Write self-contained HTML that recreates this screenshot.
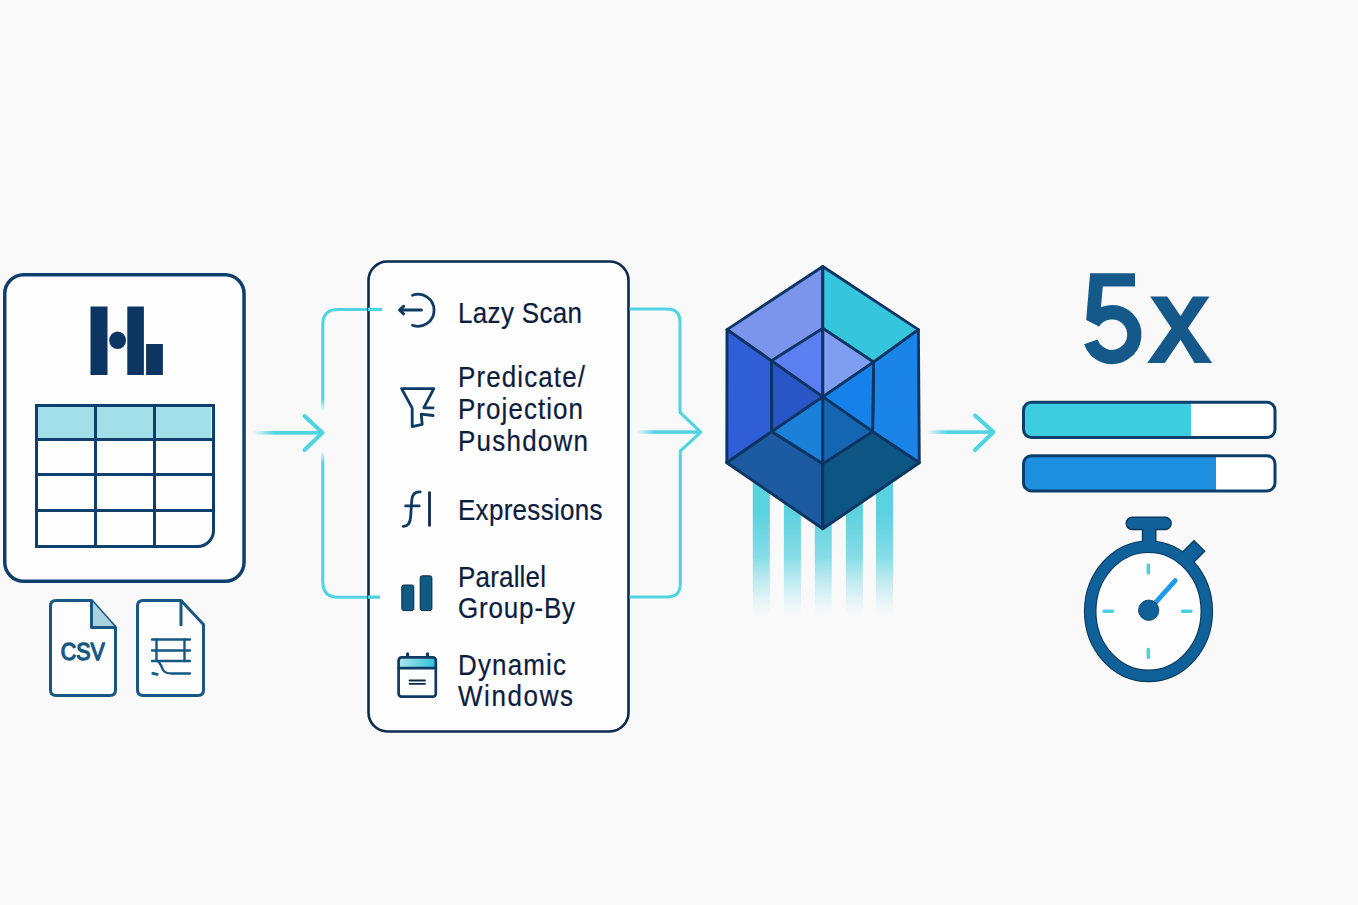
<!DOCTYPE html>
<html>
<head>
<meta charset="utf-8">
<style>
html,body{margin:0;padding:0;background:#f9f9fa;}
body{width:1358px;height:905px;overflow:hidden;}
svg{display:block;}
text{font-family:"Liberation Sans",sans-serif;}
</style>
</head>
<body>
<svg width="1358" height="905" viewBox="0 0 1358 905">
<defs>
  <linearGradient id="fadeL" x1="0" y1="0" x2="1" y2="0">
    <stop offset="0" stop-color="#50d4e2" stop-opacity="0"/>
    <stop offset="0.3" stop-color="#50d4e2" stop-opacity="1"/>
    <stop offset="1" stop-color="#50d4e2" stop-opacity="1"/>
  </linearGradient>
  <linearGradient id="barFade" gradientUnits="userSpaceOnUse" x1="0" y1="470" x2="0" y2="615">
    <stop offset="0" stop-color="#58d1de" stop-opacity="1"/>
    <stop offset="0.3" stop-color="#5cd2df" stop-opacity="1"/>
    <stop offset="0.6" stop-color="#6cd6e2" stop-opacity="0.82"/>
    <stop offset="0.85" stop-color="#9fe3ea" stop-opacity="0.4"/>
    <stop offset="1" stop-color="#c0ecf0" stop-opacity="0"/>
  </linearGradient>
  <linearGradient id="fadeDown" x1="0" y1="0" x2="0" y2="1">
    <stop offset="0" stop-color="#50d4e2" stop-opacity="1"/>
    <stop offset="1" stop-color="#50d4e2" stop-opacity="0"/>
  </linearGradient>
  <linearGradient id="fadeUp" x1="0" y1="1" x2="0" y2="0">
    <stop offset="0" stop-color="#50d4e2" stop-opacity="1"/>
    <stop offset="1" stop-color="#50d4e2" stop-opacity="0"/>
  </linearGradient>
  <linearGradient id="calHead" x1="0" y1="0" x2="1" y2="0">
    <stop offset="0" stop-color="#a9e6ee"/>
    <stop offset="1" stop-color="#2fc3d8"/>
  </linearGradient>
</defs>
<rect width="1358" height="905" fill="#f9f9fa"/>

<!-- LEFT CARD -->
<rect x="4.75" y="274.75" width="239.3" height="306.5" rx="19" fill="#fefefe" stroke="#0f3f6c" stroke-width="3.5"/>
<!-- logo -->
<g fill="#0d3562">
  <rect x="90.5" y="306.5" width="17" height="68.5"/>
  <rect x="127.3" y="306.5" width="16.6" height="68.5"/>
  <rect x="146.1" y="344" width="16.8" height="31"/>
  <ellipse cx="117.6" cy="340.3" rx="8.4" ry="8.8"/>
</g>
<!-- table -->
<rect x="37" y="406" width="174" height="34" fill="#a3dfe8"/>
<g fill="none" stroke="#0f3f6c" stroke-width="3">
  <path d="M36.5 405.5 H213.5 V530 A16 16 0 0 1 197.5 546.5 H36.5 Z"/>
  <path d="M36.5 439.5 H213.5 M36.5 474.5 H213.5 M36.5 510.5 H213.5"/>
  <path d="M95.5 405.5 V546.5 M154.5 405.5 V546.5"/>
</g>
<!-- file icons -->
<g fill="none" stroke="#175782" stroke-width="3" stroke-linejoin="round">
  <path fill="#fdfdfd" d="M91.5 600.5 H56 Q50.5 600.5 50.5 606 V690 Q50.5 695.5 56 695.5 H110 Q115.5 695.5 115.5 690 V627.5 Z"/>
  <path d="M91.5 600.5 V627.5 H115.5" fill="#a9d1de"/>
  <path fill="#fdfdfd" d="M181 600.5 H143 Q137.5 600.5 137.5 606 V690 Q137.5 695.5 143 695.5 H198 Q203.5 695.5 203.5 690 V624.5 Z"/>
  <path d="M181 600.5 V626"/>
</g>
<text x="60.8" y="660.2" font-size="24" fill="#175782" stroke="#175782" stroke-width="1.3" stroke-linejoin="round" textLength="44" lengthAdjust="spacingAndGlyphs">CSV</text>
<g fill="none" stroke="#175782" stroke-width="2.4" stroke-linecap="round">
  <path d="M152 639.5 H190 M152 650.5 H190 M152 661 H190"/>
  <path d="M156.5 639.5 V661 M184.5 639.5 V650.5 M184.5 650.5 V661"/>
  <path d="M158.5 661.5 Q162 666 163 670 Q165 673.5 172 673.5 H190"/>
  <path d="M152.8 673.4 L157.3 674.3" stroke-width="2.8"/>
</g>

<!-- BRACKET 1 -->
<g fill="none" stroke="#50d4e2" stroke-width="3" stroke-linecap="round">
  <path d="M381 309.5 H338 Q322.8 309.5 322.8 324.5 V399" stroke-linecap="butt"/>
  <path d="M322.8 463 V582 Q322.8 597.2 338 597.2 H379" stroke-linecap="butt"/>
</g>
<rect x="321.3" y="399" width="3" height="12" fill="url(#fadeDown)"/>
<rect x="321.3" y="451" width="3" height="12" fill="url(#fadeUp)"/>
<rect x="253" y="431" width="70" height="3.6" fill="url(#fadeL)"/>
<path d="M304.5 416 L322.5 432.8 L304.5 450" fill="none" stroke="#50d4e2" stroke-width="4" stroke-linecap="round" stroke-linejoin="round"/>

<!-- PANEL -->
<rect x="368.5" y="261.5" width="260" height="470" rx="19" fill="#fefefe" stroke="#0b2a4d" stroke-width="2.6"/>
<g fill="#50d4e2">
  <rect x="368" y="307.8" width="14" height="3.3"/>
  <rect x="368" y="595.5" width="12" height="3.3"/>
</g>

<!-- panel icons -->
<g fill="none" stroke="#0f3a64" stroke-width="2.8" stroke-linecap="round" stroke-linejoin="round">
  <path d="M412.5 295.3 A16 16 0 1 1 412.5 325.3"/>
  <path d="M421.3 310 H400.5" stroke-width="3.2"/>
  <path d="M403.6 306.3 L399.6 310 L403.6 313.8" stroke-width="3"/>
  <!-- funnel -->
  <path d="M401.6 388.6 H433.8 L423.8 407.8 H433.1 M401.6 388.6 L412.2 408.2 V426.7 L422.2 424.4 L421.2 414.1 L433.1 415.5"/>
  <!-- f -->
  <path d="M420.2 491.9 Q412.5 491.5 411.8 500 L410.6 517.1 Q410 526 403.3 526.4"/>
  <path d="M405.6 505.9 H419.2"/>
  <path d="M429.5 491.5 V526.5" stroke="#0b2a52" stroke-linecap="butt"/>
</g>
<g fill="#0e5a80" stroke="#0a2a50" stroke-width="1">
  <rect x="401.8" y="585" width="12" height="25.6" rx="2"/>
  <rect x="420.2" y="575.8" width="11.7" height="34.8" rx="2"/>
</g>
<!-- calendar -->
<rect x="399.5" y="658.3" width="36" height="9" fill="url(#calHead)"/>
<g fill="none" stroke="#0f3a64" stroke-width="2.7" stroke-linecap="round">
  <rect x="398.6" y="657.4" width="37.2" height="39.3" rx="3"/>
  <path d="M398.6 668.2 H435.8"/>
  <path d="M407.6 653.8 V656.5 M427.5 653.8 V656.5" stroke-width="3.2"/>
</g>
<g fill="none" stroke="#0b2a4d" stroke-width="1.8" stroke-linecap="round">
  <path d="M409.5 680.5 H425 M409.5 683.8 H425"/>
</g>

<!-- panel text -->
<g fill="#0e1d3d" font-size="29.5" stroke="#0e1d3d" stroke-width="0.25">
  <text transform="translate(458 322.5) scale(0.88 1)" x="0" y="0" textLength="140.9" lengthAdjust="spacing">Lazy Scan</text>
  <text transform="translate(458 386.8) scale(0.88 1)" x="0" y="0" textLength="144.3" lengthAdjust="spacing">Predicate/</text>
  <text transform="translate(458 418.9) scale(0.88 1)" x="0" y="0" textLength="142.0" lengthAdjust="spacing">Projection</text>
  <text transform="translate(458 450.5) scale(0.88 1)" x="0" y="0" textLength="147.7" lengthAdjust="spacing">Pushdown</text>
  <text transform="translate(458 519.9) scale(0.88 1)" x="0" y="0" textLength="164.2" lengthAdjust="spacing">Expressions</text>
  <text transform="translate(458 587.0) scale(0.88 1)" x="0" y="0" textLength="100.0" lengthAdjust="spacing">Parallel</text>
  <text transform="translate(458 618.3) scale(0.88 1)" x="0" y="0" textLength="133.0" lengthAdjust="spacing">Group-By</text>
  <text transform="translate(458 674.9) scale(0.88 1)" x="0" y="0" textLength="122.7" lengthAdjust="spacing">Dynamic</text>
  <text transform="translate(458 706.2) scale(0.88 1)" x="0" y="0" textLength="130.7" lengthAdjust="spacing">Windows</text>
</g>

<!-- BRACKET 2 -->
<g fill="none" stroke="#50d4e2" stroke-width="3" stroke-linecap="round" stroke-linejoin="round">
  <path d="M631 309 H667 Q680 309 680 322 V412.4 L700.8 432.1 L680.3 451.1 V584 Q680.3 597 667 597 H631"/>
</g>
<rect x="636" y="430.3" width="62" height="3.5" fill="url(#fadeL)"/>

<!-- CUBE bars -->
<g fill="url(#barFade)">
  <rect x="752.8" y="470" width="17" height="145"/>
  <rect x="783.9" y="470" width="17" height="145"/>
  <rect x="814.8" y="470" width="17" height="145"/>
  <rect x="845.9" y="470" width="17" height="145"/>
  <rect x="876" y="470" width="17" height="145"/>
</g>
<!-- CUBE -->
<g stroke="#0d3563" stroke-width="2.9" stroke-linejoin="round">
  <!-- top-left face -->
  <polygon points="822.8,266.5 727,329.6 771.5,360.9 822.8,328.4" fill="#7b94ec"/>
  <!-- top-right face -->
  <polygon points="822.8,266.5 918.4,329.6 873.6,362.1 822.8,328.4" fill="#35c5dc"/>
  <!-- left face -->
  <polygon points="727,329.6 726.8,462.7 771.8,431.6 771.5,360.9" fill="#2f5ed6"/>
  <!-- right face -->
  <polygon points="918.4,329.6 919.3,462.7 872.6,431.6 873.6,362.1" fill="#1a84e8"/>
  <!-- bottom-left face -->
  <polygon points="726.8,462.7 822.8,528.8 822.8,463.7 771.8,431.6" fill="#1c5ba2"/>
  <!-- bottom-right face -->
  <polygon points="919.3,462.7 822.8,528.8 822.8,463.7 872.6,431.6" fill="#0d5684"/>
  <!-- inner triangles -->
  <polygon points="822.8,328.4 771.5,360.9 822.8,396.9" fill="#5b7ef0"/>
  <polygon points="822.8,328.4 873.6,362.1 822.8,396.9" fill="#7e9ef2"/>
  <polygon points="771.5,360.9 771.8,431.6 822.8,396.9" fill="#2856c6"/>
  <polygon points="873.6,362.1 872.6,431.6 822.8,396.9" fill="#1681ea"/>
  <polygon points="771.8,431.6 822.8,463.7 822.8,396.9" fill="#1a80d8"/>
  <polygon points="872.6,431.6 822.8,463.7 822.8,396.9" fill="#1566b2"/>
</g>

<!-- ARROW 3 -->
<rect x="927" y="430.3" width="64" height="3.6" fill="url(#fadeL)"/>
<path d="M975 415.5 L993.5 432.1 L975 450" fill="none" stroke="#50d4e2" stroke-width="4" stroke-linecap="round" stroke-linejoin="round"/>

<!-- 5x -->
<g fill="#15598a">
  <polygon points="1090.1,273.3 1135,273.3 1135,286.6 1102.8,286.6 1100.5,312 1099.1,326.5 1086.2,320"/>
  <path d="M1093.05 322.76 A22.35 22.35 0 1 1 1090.87 341.88" fill="none" stroke="#15598a" stroke-width="14.3"/>
  <polygon points="1150.2,296.4 1167.2,296.4 1180.6,316 1192.8,296.4 1209.5,296.4 1187.9,328.2 1212.2,362.9 1194.6,362.9 1180.6,339.8 1164.8,362.9 1147.2,362.9 1171.5,328.2"/>
</g>

<!-- progress bars -->
<rect x="1023.5" y="402.3" width="251.5" height="35.2" rx="8" fill="#ffffff"/>
<path d="M1031.5 402.3 H1191 V437.5 H1031.5 Q1023.5 437.5 1023.5 429.5 V410.3 Q1023.5 402.3 1031.5 402.3 Z" fill="#3dcce0"/>
<rect x="1023.5" y="402.3" width="251.5" height="35.2" rx="8" fill="none" stroke="#0d3f6b" stroke-width="3"/>
<rect x="1023.5" y="455.7" width="251.5" height="35.2" rx="8" fill="#ffffff"/>
<path d="M1031.5 455.7 H1216 V490.9 H1031.5 Q1023.5 490.9 1023.5 482.9 V463.7 Q1023.5 455.7 1031.5 455.7 Z" fill="#1e8fdf"/>
<rect x="1023.5" y="455.7" width="251.5" height="35.2" rx="8" fill="none" stroke="#0d3f6b" stroke-width="3"/>

<!-- stopwatch -->
<g>
  <g fill="#0b3a5e" stroke="#0b3a5e" stroke-width="1.4">
    <rect x="1126.2" y="517.3" width="45" height="12.2" rx="6.1"/>
    <rect x="1142.5" y="527" width="13.3" height="16"/>
    <rect x="1186" y="544" width="15" height="19" transform="rotate(45 1194 552)"/>
  </g>
  <ellipse cx="1148.5" cy="611.3" rx="58.3" ry="64.6" fill="#fefefe" stroke="#0b3a5e" stroke-width="12.6"/>
  <g fill="#10619a">
    <rect x="1126.9" y="518" width="43.6" height="10.8" rx="5.4"/>
    <rect x="1143.2" y="527" width="11.9" height="17"/>
    <rect x="1186.7" y="544.7" width="13.6" height="19" transform="rotate(45 1194 552)"/>
  </g>
  <ellipse cx="1148.5" cy="611.3" rx="58.3" ry="64.6" fill="none" stroke="#10619a" stroke-width="10.4"/>
  <g stroke="#4fd0e2" stroke-width="3.5" stroke-linecap="round">
    <path d="M1148.3 565 V573 M1148.3 649.5 V657.5 M1104 611.3 H1112.5 M1182.5 611.3 H1191"/>
  </g>
  <path d="M1148.7 610.2 L1175.2 580.6" stroke="#1e9be8" stroke-width="4.8" stroke-linecap="round"/>
  <circle cx="1148.7" cy="610.2" r="10.2" fill="#10619a" stroke="#0b3a5e" stroke-width="0.8"/>
</g>
</svg>
</body>
</html>
